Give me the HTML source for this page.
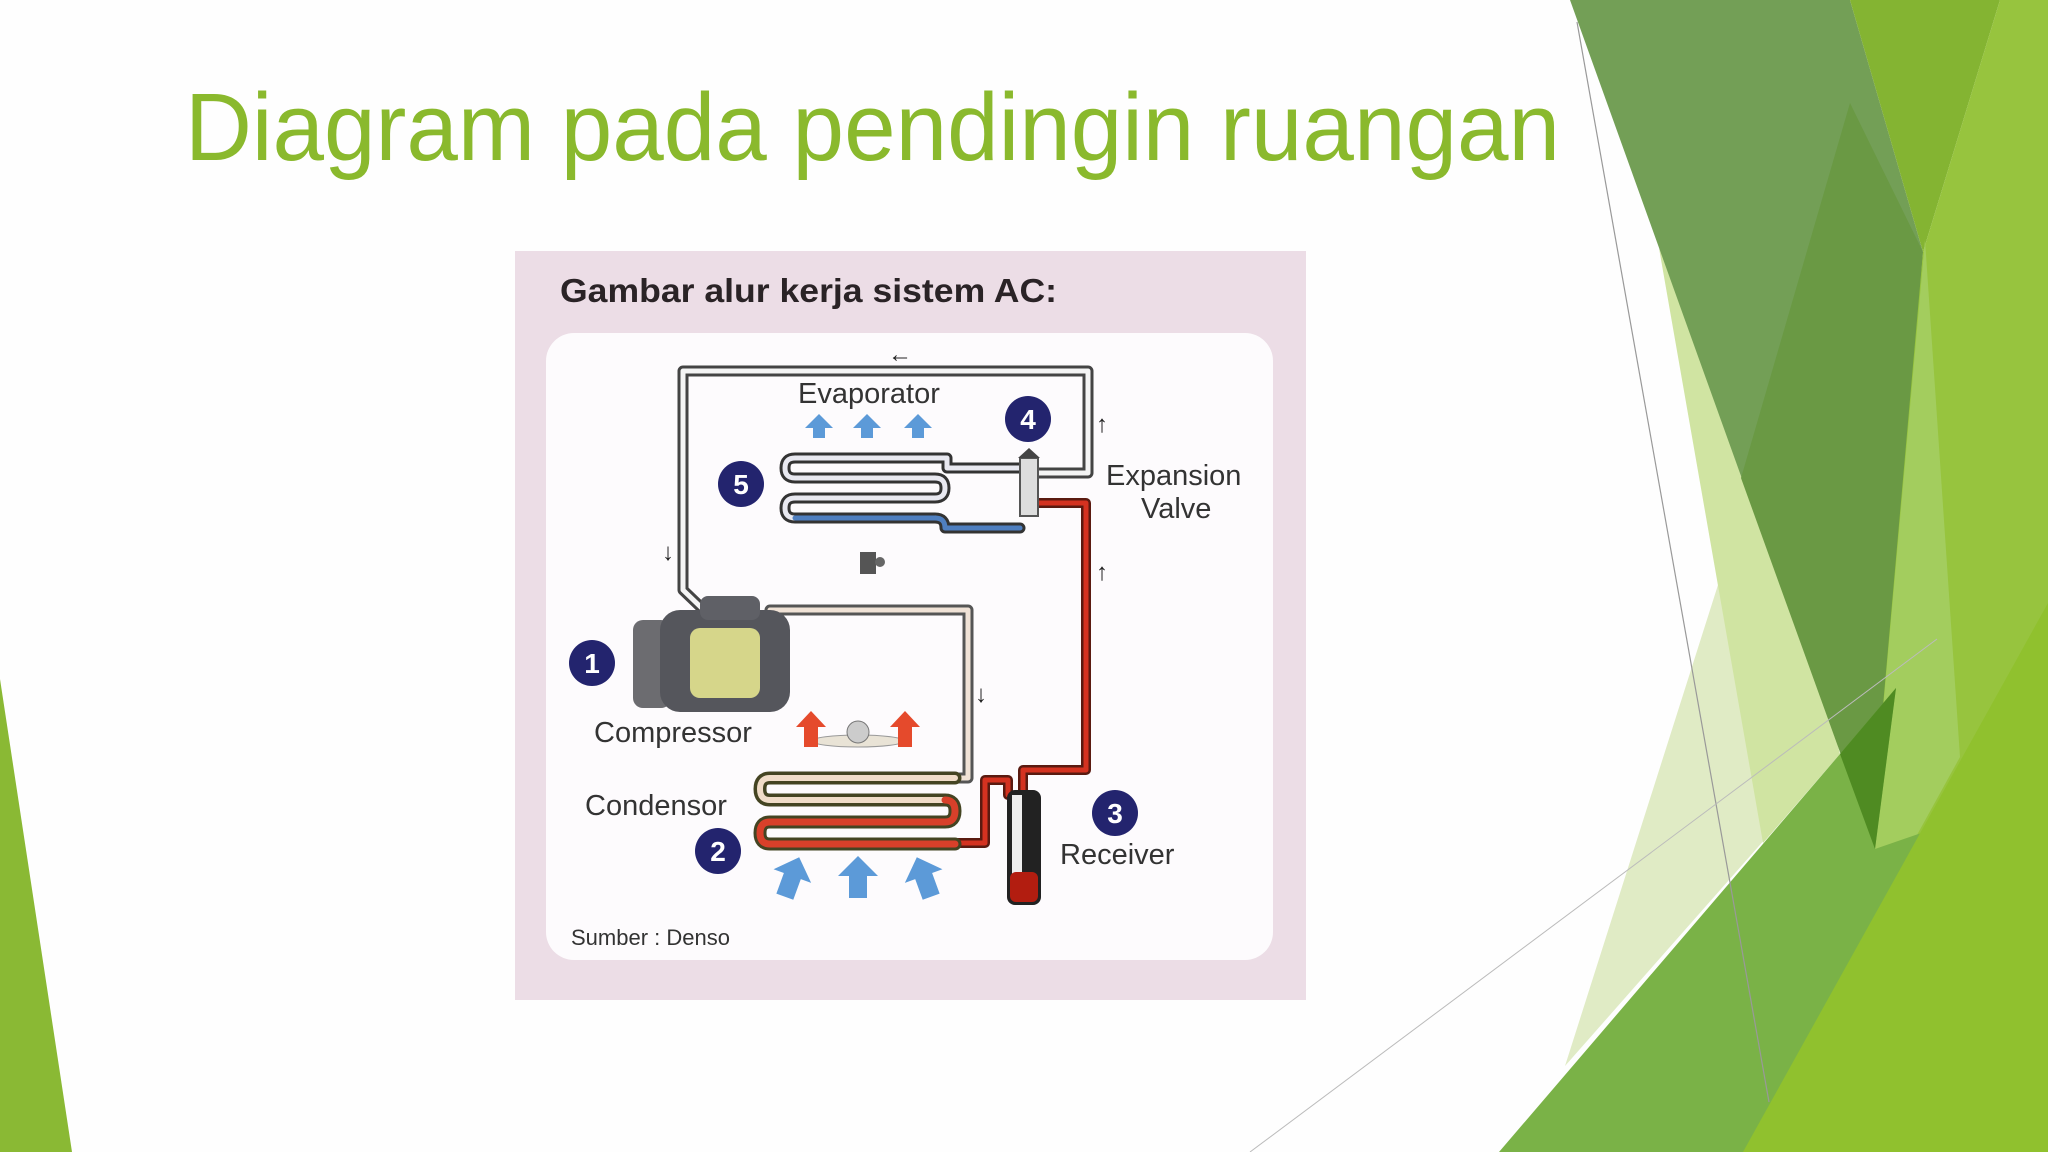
<!DOCTYPE html>
<html><head><meta charset="utf-8"><style>
html,body{margin:0;padding:0;background:#fff;}
svg{display:block;}
</style></head><body>
<svg width="2048" height="1152" viewBox="0 0 2048 1152" xmlns="http://www.w3.org/2000/svg">
<rect width="2048" height="1152" fill="#fefefe"/>
<!-- right decoration -->
<polygon points="1659,248 1745,500 1565,1066 1840,754" fill="#e0ebc5"/>
<polygon points="1659,248 1763,843 1840,754 1800,600" fill="#d0e4a2"/>
<polygon points="1570,0 1850,0 1923,252 1875,849" fill="#739f56"/>
<polygon points="1741,478 1850,103 1923,252 1875,849" fill="#6a9944"/>
<polygon points="1850,0 2000,0 1923,252" fill="#84b432"/>
<polygon points="2000,0 2048,0 2048,1152 1863,933 1923,252" fill="#97c43e"/>
<polygon points="1925,240 1863,933 1960,757" fill="#a3cd5e"/>
<polygon points="1499,1152 1840,754 1896,688 1875,849 1930,830 1760,1152" fill="#7ab247"/>
<polygon points="1840,754 1896,688 1875,849" fill="#4f8b22"/>
<polygon points="2048,603 2048,1152 1743,1152" fill="#90c12e"/>
<line x1="1577" y1="22" x2="1769" y2="1102" stroke="#999" stroke-width="1.2"/>
<line x1="1250" y1="1152" x2="1937" y2="639" stroke="#bbb" stroke-width="1"/>
<!-- left decoration -->
<polygon points="0,679 72,1152 0,1152" fill="#8ab934"/>
<!-- title -->
<text x="185" y="160" font-family="Liberation Sans, sans-serif" font-size="96" fill="#8ab92d" textLength="1375" lengthAdjust="spacingAndGlyphs">Diagram pada pendingin ruangan</text>

<!-- diagram -->
<rect x="515" y="251" width="791" height="749" fill="#ecdde6"/>
<rect x="546" y="333" width="727" height="627" rx="28" fill="#fdfbfd"/>
<text x="560" y="302" font-family="Liberation Sans, sans-serif" font-weight="bold" font-size="33" fill="#2a2326" textLength="497" lengthAdjust="spacingAndGlyphs">Gambar alur kerja sistem AC:</text>

<g fill="none" stroke-linejoin="round" stroke-linecap="round">
<path d="M709,615 L683,590 L683,371 L1088,371 L1088,473 L1030,473" stroke="#444" stroke-width="11"/>
<path d="M709,615 L683,590 L683,371 L1088,371 L1088,473 L1030,473" stroke="#f4f4f4" stroke-width="5"/>
<path d="M770,610 L968,610 L968,778 L955,778" stroke="#555" stroke-width="11"/>
<path d="M770,610 L968,610 L968,778 L955,778" stroke="#f0e2d6" stroke-width="5"/>
<path d="M1036,503 L1086,503 L1086,770 L1023,770 L1023,790" stroke="#5a1a10" stroke-width="10"/>
<path d="M1036,503 L1086,503 L1086,770 L1023,770 L1023,790" stroke="#d43220" stroke-width="5"/>
<path d="M955,843 L985,843 L985,780 L1008,780 L1008,795" stroke="#5a1a10" stroke-width="10"/>
<path d="M955,843 L985,843 L985,780 L1008,780 L1008,795" stroke="#d43220" stroke-width="5"/>
<path d="M1020,468 L947,468 L947,458 L795,458 Q785,458 785,468 Q785,478 795,478 L935,478 Q945,478 945,488 Q945,498 935,498 L795,498 Q785,498 785,508 Q785,518 795,518 L935,518 Q945,518 945,528 L1020,528" stroke="#333" stroke-width="11"/>
<path d="M1020,468 L947,468 L947,458 L795,458 Q785,458 785,468 Q785,478 795,478 L935,478 Q945,478 945,488 Q945,498 935,498 L795,498 Q785,498 785,508 Q785,518 795,518 L935,518" stroke="#e8e8f0" stroke-width="5"/>
<path d="M795,518 L935,518 Q945,518 945,528 L1020,528" stroke="#4f7fc0" stroke-width="5"/>
<path d="M955,778 L770,778 Q760,778 760,789 Q760,800 770,800 L945,800 Q955,800 955,811 Q955,822 945,822 L770,822 Q760,822 760,833 Q760,844 770,844 L955,844" stroke="#442" stroke-width="13"/>
<path d="M955,778 L770,778 Q760,778 760,789 Q760,800 770,800 L945,800" stroke="#f0dcc8" stroke-width="6"/>
<path d="M945,800 Q955,800 955,811 Q955,822 945,822 L770,822 Q760,822 760,833 Q760,844 770,844 L955,844" stroke="#d8402a" stroke-width="7"/>
</g>
<rect x="1020" y="458" width="18" height="58" fill="#ddd" stroke="#555" stroke-width="2"/>
<path d="M1018,458 L1040,458 L1029,448 Z" fill="#444"/>
<rect x="1007" y="790" width="34" height="115" rx="8" fill="#222"/>
<rect x="1012" y="795" width="10" height="80" fill="#eee"/>
<rect x="1010" y="872" width="28" height="30" rx="6" fill="#b21d10"/>
<rect x="860" y="552" width="16" height="22" fill="#555"/>
<circle cx="880" cy="562" r="5" fill="#666"/>
<ellipse cx="858" cy="741" rx="46" ry="6" fill="#e9e3d6" stroke="#999"/>
<circle cx="858" cy="732" r="11" fill="#ccc" stroke="#777"/>
<rect x="633" y="620" width="38" height="88" rx="10" fill="#6c6c70"/>
<rect x="660" y="610" width="130" height="102" rx="20" fill="#55565c"/>
<rect x="690" y="628" width="70" height="70" rx="10" fill="#d6d68a"/>
<rect x="700" y="596" width="60" height="24" rx="8" fill="#5f6066"/>
<g font-family="Liberation Sans, sans-serif" font-weight="bold" font-size="28" fill="#fff" text-anchor="middle">
<circle cx="592" cy="663" r="23" fill="#23246e"/><text x="592" y="673">1</text>
<circle cx="718" cy="851" r="23" fill="#23246e"/><text x="718" y="861">2</text>
<circle cx="1115" cy="813" r="23" fill="#23246e"/><text x="1115" y="823">3</text>
<circle cx="1028" cy="419" r="23" fill="#23246e"/><text x="1028" y="429">4</text>
<circle cx="741" cy="484" r="23" fill="#23246e"/><text x="741" y="494">5</text>
</g>
<g fill="#5c9ad8">
<path d="M805,428 L819,414 L833,428 L825,428 L825,438 L813,438 L813,428 Z"/>
<path d="M853,428 L867,414 L881,428 L873,428 L873,438 L861,438 L861,428 Z"/>
<path d="M904,428 L918,414 L932,428 L924,428 L924,438 L912,438 L912,428 Z"/>
<path d="M772,876 L792,856 L812,876 L801,876 L801,898 L783,898 L783,876 Z" transform="rotate(20 792 877)"/>
<path d="M838,876 L858,856 L878,876 L867,876 L867,898 L849,898 L849,876 Z"/>
<path d="M904,876 L924,856 L944,876 L933,876 L933,898 L915,898 L915,876 Z" transform="rotate(-20 924 877)"/>
</g>
<g fill="#e54a2c">
<path d="M796,727 L811,711 L826,727 L818,727 L818,747 L804,747 L804,727 Z"/>
<path d="M890,727 L905,711 L920,727 L912,727 L912,747 L898,747 L898,727 Z"/>
</g>
<g font-family="Liberation Sans, sans-serif" font-size="24" font-weight="bold" fill="#222" text-anchor="middle">
<text x="900" y="362">←</text>
<text x="1102" y="432">↑</text>
<text x="1102" y="580">↑</text>
<text x="668" y="560">↓</text>
<text x="981" y="702">↓</text>
</g>
<g font-family="Liberation Sans, sans-serif" font-size="29" fill="#333">
<text x="798" y="403">Evaporator</text>
<text x="1106" y="485">Expansion</text>
<text x="1141" y="518">Valve</text>
<text x="594" y="742">Compressor</text>
<text x="585" y="815">Condensor</text>
<text x="1060" y="864">Receiver</text>
<text x="571" y="945" font-size="22">Sumber : Denso</text>
</g>
</svg>
</body></html>
